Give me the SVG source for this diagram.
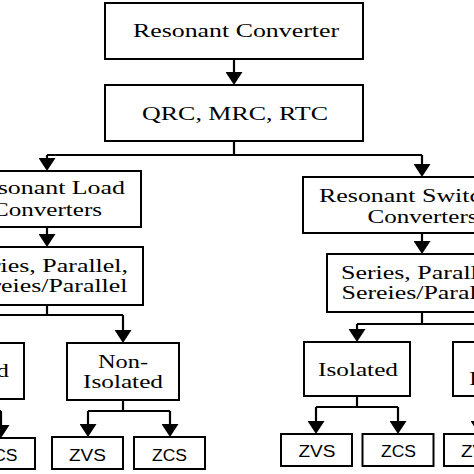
<svg xmlns="http://www.w3.org/2000/svg" width="474" height="474" viewBox="0 0 474 474">
<defs>
<marker id="ah" markerUnits="userSpaceOnUse" markerWidth="13" markerHeight="17" viewBox="0 0 13 17" refX="9" refY="8.5" orient="auto">
<path d="M0,0 L13,8.5 L0,17 Z" fill="#000"/>
</marker>
<style>
.box{fill:#fff;stroke:#000;stroke-width:2}
.ln{fill:none;stroke:#000;stroke-width:2.2}
.ar{fill:none;stroke:#000;stroke-width:2.2;marker-end:url(#ah)}
.t{font-family:"Liberation Serif","Times New Roman",serif;font-size:18px;fill:#000;text-anchor:middle}
.s{font-family:"Liberation Sans",Arial,sans-serif;font-size:16px;fill:#000;text-anchor:middle}
</style>
</defs>
<rect width="474" height="474" fill="#fff"/>
<g id="connectors">
<line class="ar" x1="234" y1="59" x2="234" y2="81"/>
<polyline class="ln" points="234,141 234,155"/>
<polyline class="ln" points="47,155 422,155"/>
<line class="ar" x1="47" y1="155" x2="47" y2="167"/>
<line class="ar" x1="422" y1="155" x2="422" y2="173"/>
<line class="ar" x1="47" y1="227" x2="47" y2="243"/>
<line class="ar" x1="422" y1="233" x2="422" y2="250"/>
<polyline class="ln" points="47,305 47,315"/>
<polyline class="ln" points="-29,315 123,315"/>
<line class="ar" x1="-29" y1="315" x2="-29" y2="339"/>
<line class="ar" x1="123" y1="315" x2="123" y2="339"/>
<polyline class="ln" points="-29,399 -29,411"/>
<polyline class="ln" points="-70,411 1,411"/>
<line class="ar" x1="1" y1="411" x2="1" y2="434"/>
<polyline class="ln" points="123,400 123,411"/>
<polyline class="ln" points="88,411 170,411"/>
<line class="ar" x1="88" y1="411" x2="88" y2="433"/>
<line class="ar" x1="170" y1="411" x2="170" y2="433"/>
<polyline class="ln" points="422,312 422,324"/>
<polyline class="ln" points="357,324 509,324"/>
<line class="ar" x1="357" y1="324" x2="357" y2="338"/>
<line class="ar" x1="509" y1="324" x2="509" y2="338"/>
<polyline class="ln" points="357,396 357,407"/>
<polyline class="ln" points="316,407 398,407"/>
<line class="ar" x1="316" y1="407" x2="316" y2="430"/>
<line class="ar" x1="398" y1="407" x2="398" y2="430"/>
<polyline class="ln" points="509,396 509,407"/>
<polyline class="ln" points="479,407 550,407"/>
<line class="ar" x1="479" y1="407" x2="479" y2="430"/>
</g>
<g id="n-resonant-converter">
<rect class="box" x="105" y="3" width="258" height="56"/>
<text class="t" x="236" y="36.5" textLength="206" lengthAdjust="spacingAndGlyphs">Resonant Converter</text>
</g>
<g id="n-qrc">
<rect class="box" x="105" y="85" width="258" height="56"/>
<text class="t" x="235" y="119.5" textLength="186" lengthAdjust="spacingAndGlyphs">QRC, MRC, RTC</text>
</g>
<g id="n-resonant-load">
<rect class="box" x="-47" y="171" width="188" height="56"/>
<text class="t" x="47" y="194" textLength="156" lengthAdjust="spacingAndGlyphs">Resonant Load</text>
<text class="t" x="47" y="216" textLength="110" lengthAdjust="spacingAndGlyphs">Converters</text>
</g>
<g id="n-series-left">
<rect class="box" x="-49" y="247" width="192" height="58"/>
<text class="t" x="47" y="271.5" textLength="162" lengthAdjust="spacingAndGlyphs">Series, Parallel,</text>
<text class="t" x="47" y="291.5" textLength="161" lengthAdjust="spacingAndGlyphs">Sereies/Parallel</text>
</g>
<g id="n-isolated-left">
<rect class="box" x="-82" y="343" width="106" height="56"/>
<text class="t" x="-31" y="376.5" textLength="80" lengthAdjust="spacingAndGlyphs">Isolated</text>
</g>
<g id="n-nonisolated-left">
<rect class="box" x="67" y="343" width="112" height="57"/>
<text class="t" x="123" y="368" textLength="50" lengthAdjust="spacingAndGlyphs">Non-</text>
<text class="t" x="123" y="388" textLength="80" lengthAdjust="spacingAndGlyphs">Isolated</text>
</g>
<g id="n-zcs-ll">
<rect class="box" x="-35" y="438" width="70" height="31"/>
<text class="s" x="0" y="460.5" textLength="35" lengthAdjust="spacingAndGlyphs">ZCS</text>
</g>
<g id="n-zvs-lr">
<rect class="box" x="52" y="437" width="71" height="32"/>
<text class="s" x="87.5" y="460.5" textLength="37" lengthAdjust="spacingAndGlyphs">ZVS</text>
</g>
<g id="n-zcs-lr">
<rect class="box" x="134" y="437" width="71" height="32"/>
<text class="s" x="169.5" y="460.5" textLength="35" lengthAdjust="spacingAndGlyphs">ZCS</text>
</g>
<g id="n-resonant-switch">
<rect class="box" x="303" y="177" width="238" height="56"/>
<text class="t" x="319" y="201.5" textLength="175" lengthAdjust="spacingAndGlyphs" style="text-anchor:start">Resonant Switch</text>
<text class="t" x="422.5" y="222.5" textLength="110" lengthAdjust="spacingAndGlyphs">Converters</text>
</g>
<g id="n-series-right">
<rect class="box" x="327" y="254" width="190" height="58"/>
<text class="t" x="422" y="278.5" textLength="162" lengthAdjust="spacingAndGlyphs">Series, Parallel,</text>
<text class="t" x="422" y="298.5" textLength="161" lengthAdjust="spacingAndGlyphs">Sereies/Parallel</text>
</g>
<g id="n-isolated-right">
<rect class="box" x="304" y="342" width="106" height="54"/>
<text class="t" x="358" y="375.5" textLength="80" lengthAdjust="spacingAndGlyphs">Isolated</text>
</g>
<g id="n-nonisolated-right">
<rect class="box" x="453" y="342" width="112" height="54"/>
<text class="t" x="509" y="365.5" textLength="50" lengthAdjust="spacingAndGlyphs">Non-</text>
<text class="t" x="509" y="385" textLength="80" lengthAdjust="spacingAndGlyphs">Isolated</text>
</g>
<g id="n-zvs-rl">
<rect class="box" x="281" y="434" width="71" height="32"/>
<text class="s" x="317" y="456.7" textLength="37" lengthAdjust="spacingAndGlyphs">ZVS</text>
</g>
<g id="n-zcs-rl">
<rect class="box" x="362.5" y="434" width="71" height="32"/>
<text class="s" x="398.5" y="456.7" textLength="35" lengthAdjust="spacingAndGlyphs">ZCS</text>
</g>
<g id="n-zvs-rr">
<rect class="box" x="444" y="434" width="71" height="32"/>
<text class="s" x="479.5" y="456.7" textLength="37" lengthAdjust="spacingAndGlyphs">ZVS</text>
</g>
</svg>
